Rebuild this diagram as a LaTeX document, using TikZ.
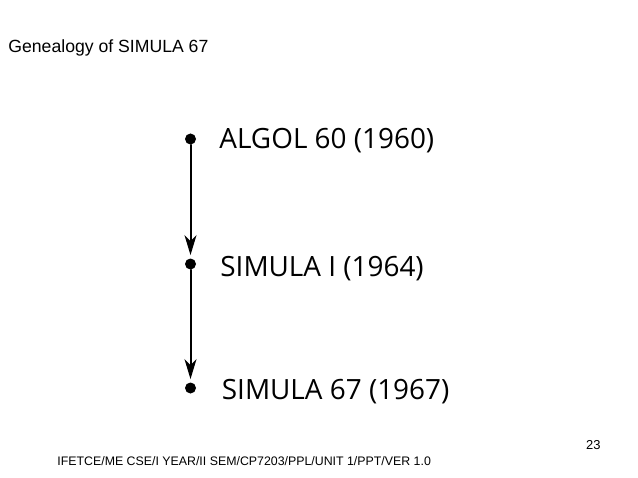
\documentclass[tikz,border=0pt]{standalone}
\usepackage{fontspec}
\setmainfont{Liberation Sans}
\newfontfamily\zifont{Open Sans}
\usetikzlibrary{arrows.meta}

\begin{document}
\begin{tikzpicture}[x=1bp,y=-1bp,thick,line cap=round] %% tikz
	\tikzstyle{shi}=[circle,fill=black,inner sep=0pt,minimum size=11bp];
	\tikzstyle{ming}=[anchor=base west,inner sep=0pt,font=\zifont\fontsize{28}{30}\selectfont];
	\tikzstyle{jian}=[line width=2bp,shorten >=3bp,-{Stealth[length=20bp,width=12bp,inset=6bp]}];
	\useasboundingbox (0,0) rectangle (638,478);
	%% title
	\node[anchor=base west,inner sep=0pt,font=\fontsize{17.7}{20}\selectfont] (title) at (8,53) {Genealogy of SIMULA 67};
	%% dots and names
	\node[shi] (algol) at (190.5,139) {};
	\node[shi] (sim1) at (190.5,264) {};
	\node[shi] (sim67) at (190.5,388) {};
	\node[ming] (talgol) at (219,149) {ALGOL 60 (1960)};
	\node[ming] (tsim1) at (220,276) {SIMULA I (1964)};
	\node[ming] (tsim67) at (221.5,399) {SIMULA 67 (1967)};
	%% arrows
	\draw[jian] (algol) -- (sim1);
	\draw[jian] (sim1) -- (sim67);
	%% footer
	\node[anchor=base east,inner sep=0pt,font=\fontsize{13}{15}\selectfont] (page) at (601,449) {23};
	\node[anchor=base west,inner sep=0pt,font=\fontsize{12.4}{15}\selectfont] (foot) at (57,465) {IFETCE/ME CSE/I YEAR/II SEM/CP7203/PPL/UNIT 1/PPT/VER 1.0};
\end{tikzpicture}
\end{document}
